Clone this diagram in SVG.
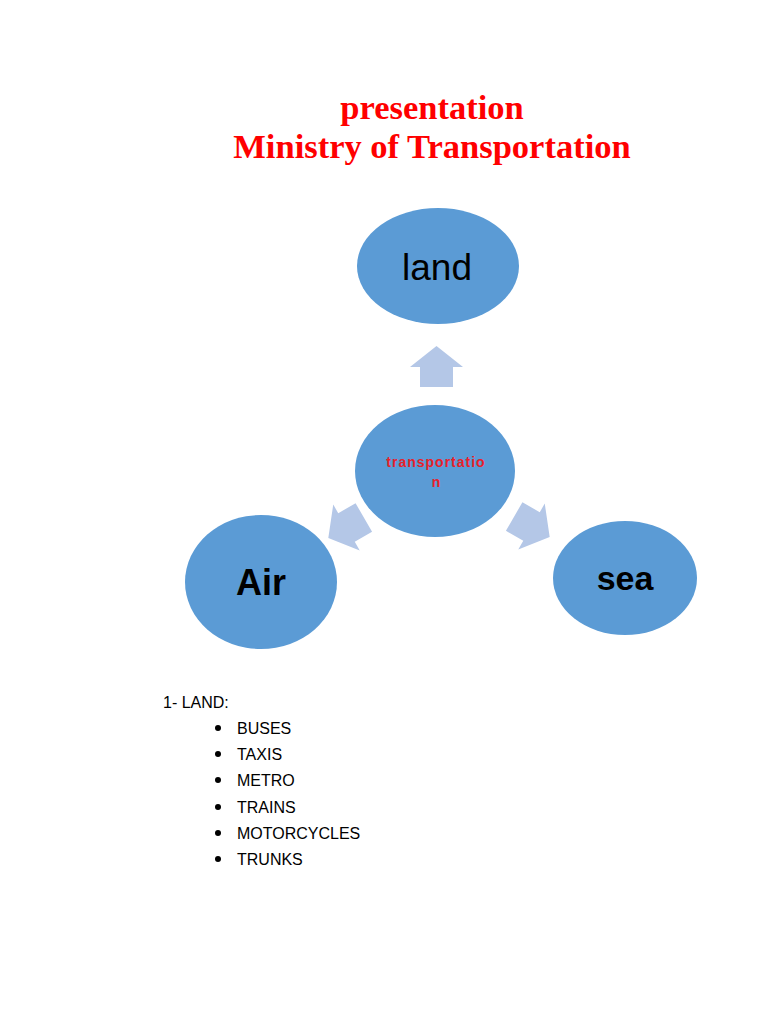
<svg xmlns="http://www.w3.org/2000/svg" width="768" height="1024" viewBox="0 0 768 1024">
<style>
.title{font-family:"Liberation Serif","Times New Roman",serif;font-weight:bold;font-size:34.5px;fill:#FF0000;text-anchor:middle}
.node{fill:#5B9BD5}
.lbl{font-family:"Liberation Sans",Arial,sans-serif;fill:#000;text-anchor:middle}
.arrow{fill:#B4C7E7}
.list{font-family:"Liberation Sans",Arial,sans-serif;font-size:16px;fill:#000}
</style>
<defs>
<path id="arr" d="M0,-21 L26.5,0 L16.5,0 L16.5,20 L-16.5,20 L-16.5,0 L-26.5,0 Z"/>
</defs>
<rect width="768" height="1024" fill="#fff"/>
<text class="title" x="432" y="119">presentation</text>
<text class="title" x="432" y="158">Ministry of Transportation</text>
<g id="connectors">
<use href="#arr" class="arrow" transform="translate(436.5,367)"/>
<use href="#arr" class="arrow" transform="translate(346.5,527.5) rotate(-120)"/>
<use href="#arr" class="arrow" transform="translate(531.5,526.5) rotate(120)"/>
</g>
<g id="land">
<ellipse class="node" cx="438" cy="266" rx="81" ry="58"/>
<text class="lbl" x="437" y="280" font-size="37">land</text>
</g>
<g id="transportation">
<ellipse class="node" cx="435" cy="471" rx="80" ry="66"/>
<text class="lbl" x="436" y="467" font-size="14" font-weight="bold" style="fill:#E8202A" letter-spacing="1">transportatio</text>
<text class="lbl" x="436" y="487" font-size="14" font-weight="bold" style="fill:#E8202A">n</text>
</g>
<g id="air">
<ellipse class="node" cx="261" cy="582" rx="76" ry="67"/>
<text class="lbl" x="261" y="595" font-size="36" font-weight="bold">Air</text>
</g>
<g id="sea">
<ellipse class="node" cx="625" cy="578" rx="72" ry="57"/>
<text class="lbl" x="625" y="590" font-size="34" font-weight="bold">sea</text>
</g>
<g id="list">
<text class="list" x="163" y="708">1- LAND:</text>
<g fill="#000">
<circle cx="218" cy="728" r="3"/>
<circle cx="218" cy="754" r="3"/>
<circle cx="218" cy="780" r="3"/>
<circle cx="218" cy="807" r="3"/>
<circle cx="218" cy="833" r="3"/>
<circle cx="218" cy="859" r="3"/>
</g>
<text class="list" x="237" y="734">BUSES</text>
<text class="list" x="237" y="760">TAXIS</text>
<text class="list" x="237" y="786">METRO</text>
<text class="list" x="237" y="813">TRAINS</text>
<text class="list" x="237" y="839">MOTORCYCLES</text>
<text class="list" x="237" y="865">TRUNKS</text>
</g>
</svg>
